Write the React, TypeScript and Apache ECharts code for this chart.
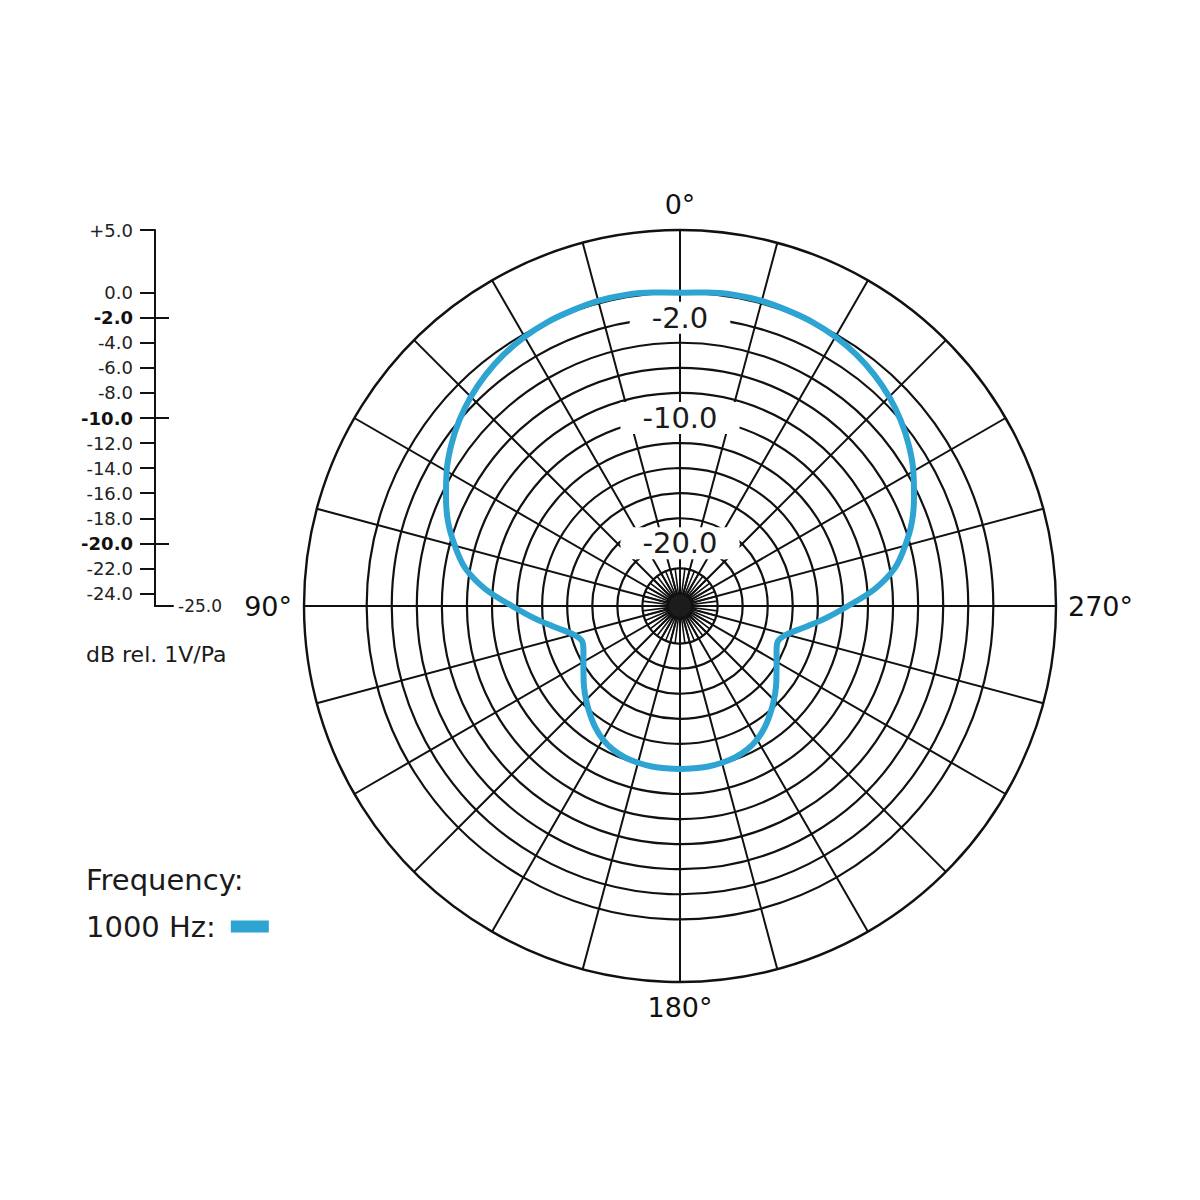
import React, { useEffect, useRef } from 'react';
import * as echarts from 'echarts';

// ---- data ----
const angles = [
  0, 5, 10, 15, 20, 25, 30, 35, 40, 45, 50, 55, 60, 65, 70, 75, 80, 85, 90,
  95, 100, 105, 110, 115, 120, 125, 130, 135, 140, 145, 150, 155, 160, 165, 170, 175, 180,
  185, 190, 195, 200, 205, 210, 215, 220, 225, 230, 235, 240, 245, 250, 255, 260, 265, 270,
  275, 280, 285, 290, 295, 300, 305, 310, 315, 320, 325, 330, 335, 340, 345, 350, 355, 360,
];
const levels1000 = [
  0.0, 0.1, 0.2, 0.2, 0.1, 0.0, -0.2, -0.5, -0.9, -1.4, -2.0, -2.7, -3.5, -4.4, -5.3, -6.4, -7.6, -9.4, -11.6,
  -13.4, -15.0, -16.2, -16.7, -16.5, -16.1, -15.6, -15.0, -14.4, -13.8, -13.2, -12.7, -12.35, -12.15, -12.05, -12.0, -12.0, -12.0,
  -12.0, -12.0, -12.05, -12.15, -12.35, -12.7, -13.2, -13.8, -14.4, -15.0, -15.6, -16.1, -16.5, -16.7, -16.2, -15.0, -13.4, -11.6,
  -9.4, -7.6, -6.4, -5.3, -4.4, -3.5, -2.7, -2.0, -1.4, -0.9, -0.5, -0.2, 0.0, 0.1, 0.2, 0.2, 0.1, 0.0,
];
const DB_MIN = -25;
const DB_MAX = 5;
const ringLevels = [-24, -22, -20, -18, -16, -14, -12, -10, -8, -6, -4, -2, 0];
const ringLabelLevels = [-2, -10, -20];
const ringLabelTexts = ['-2.0', '-10.0', '-20.0'];
const angleLabelValues = [0, 90, 180, 270];
const angleLabelTexts = ['0°', '90°', '180°', '270°'];
const scaleValues = [5, 0, -2, -4, -6, -8, -10, -12, -14, -16, -18, -20, -22, -24];
const scaleTexts = ['+5.0', '0.0', '-2.0', '-4.0', '-6.0', '-8.0', '-10.0', '-12.0', '-14.0', '-16.0', '-18.0', '-20.0', '-22.0', '-24.0'];
const boldScaleValues = [-2, -10, -20];
const scaleMinText = '-25.0';
const unitText = 'dB rel. 1V/Pa';
const legendTitle = 'Frequency:';
const seriesName = '1000 Hz:';

const FONT = '"DejaVu Sans", Verdana, sans-serif';
const BLUE = '#2ea4d3';
const INK = '#111111';

export default function App() {
  const ref = useRef<HTMLDivElement>(null);
  useEffect(() => {
    document.body.style.margin = '0';
    if (!ref.current) return;
    const chart = echarts.init(ref.current, null, { renderer: 'svg' });
    const cx = 680;
    const cy = 606;
    const R = 376;
    const innerR = (R * 3) / (DB_MAX - DB_MIN);

    const option: any = {
      animation: false,
      backgroundColor: '#fff',
      title: [
        {
          text: legendTitle,
          left: 86,
          top: 865,
          padding: 0,
          textStyle: { fontFamily: FONT, fontSize: 29, fontWeight: 'normal', color: '#1a1a1a' },
        },
        {
          text: unitText,
          left: 86,
          top: 643,
          padding: 0,
          textStyle: { fontFamily: FONT, fontSize: 22, fontWeight: 'normal', color: '#1a1a1a' },
        },
      ],
      legend: {
        data: [seriesName],
        left: 86,
        top: 912,
        padding: 0,
        align: 'right',
        icon: 'rect',
        itemWidth: 38,
        itemHeight: 12,
        selectedMode: false,
        textStyle: { fontFamily: FONT, fontSize: 29, color: '#1a1a1a', padding: [0, 10, 0, 0] },
      },
      polar: [
        { center: [cx, cy], radius: R },
        { center: [cx, cy], radius: innerR },
      ],
      angleAxis: [
        {
          polarIndex: 0,
          type: 'value',
          min: 0,
          max: 360,
          interval: 15,
          startAngle: 90,
          clockwise: false,
          axisLine: { show: true, lineStyle: { color: INK, width: 2.4 } },
          axisTick: { show: false },
          splitLine: { show: true, lineStyle: { color: INK, width: 2 } },
          axisLabel: {
            show: true,
            margin: 12,
            fontFamily: FONT,
            fontSize: 27,
            color: '#111',
            formatter: (v: number) => {
              const i = angleLabelValues.indexOf(v);
              return i >= 0 ? angleLabelTexts[i] : '';
            },
          },
        },
        {
          polarIndex: 1,
          type: 'value',
          min: 0,
          max: 360,
          interval: 7.5,
          startAngle: 90,
          clockwise: false,
          axisLine: { show: false },
          axisTick: { show: false },
          axisLabel: { show: false },
          splitLine: { show: true, lineStyle: { color: INK, width: 1.6 } },
        },
      ],
      radiusAxis: [
        {
          polarIndex: 0,
          type: 'value',
          min: DB_MIN,
          max: DB_MAX,
          axisLine: { show: false },
          axisTick: { show: false, customValues: ringLevels },
          axisLabel: { show: false },
          splitLine: { show: true, lineStyle: { color: INK, width: 2.2 } },
        },
        {
          polarIndex: 1,
          type: 'value',
          min: 0,
          max: 1,
          axisLine: { show: false },
          axisTick: { show: false },
          axisLabel: { show: false },
          splitLine: { show: false },
        },
      ],
      grid: [{ left: 155, top: cy - R, width: 18, height: R, containLabel: false }],
      xAxis: [
        {
          gridIndex: 0,
          type: 'value',
          min: 0,
          max: 1,
          position: 'bottom',
          axisLine: { show: true, onZero: false, lineStyle: { color: INK, width: 2 } },
          axisTick: { show: false },
          axisLabel: { show: false },
          splitLine: { show: false },
          name: scaleMinText,
          nameLocation: 'end',
          nameGap: 5,
          nameTextStyle: { fontFamily: FONT, fontSize: 17, color: '#222' },
        },
      ],
      yAxis: [
        {
          gridIndex: 0,
          type: 'value',
          min: DB_MIN,
          max: DB_MAX,
          position: 'left',
          axisLine: { show: true, onZero: false, lineStyle: { color: INK, width: 2 } },
          axisTick: { show: true, length: 15, customValues: scaleValues, lineStyle: { color: INK, width: 2 } },
          axisLabel: {
            show: true,
            customValues: scaleValues,
            margin: 22,
            fontFamily: FONT,
            fontSize: 18,
            color: '#222',
            formatter: (v: number) => {
              const i = scaleValues.indexOf(v);
              const t = i >= 0 ? scaleTexts[i] : '';
              return boldScaleValues.indexOf(v) >= 0 ? '{b|' + t + '}' : t;
            },
            rich: { b: { fontFamily: FONT, fontSize: 18, fontWeight: 'bold', color: '#111' } },
          },
          splitLine: { show: false },
        },
        {
          gridIndex: 0,
          type: 'value',
          min: DB_MIN,
          max: DB_MAX,
          position: 'left',
          axisLine: { show: false, onZero: false },
          axisTick: { show: true, inside: true, length: 14, customValues: boldScaleValues, lineStyle: { color: INK, width: 2 } },
          axisLabel: { show: false },
          splitLine: { show: false },
        },
      ],
      series: [
        {
          name: seriesName,
          type: 'line',
          coordinateSystem: 'polar',
          polarIndex: 0,
          data: angles.map((a, i) => [levels1000[i], a]),
          smooth: 0.35,
          showSymbol: false,
          symbol: 'none',
          lineStyle: { color: BLUE, width: 6 },
          itemStyle: { color: BLUE },
          z: 4,
          silent: true,
        },
        {
          name: 'center',
          type: 'scatter',
          coordinateSystem: 'polar',
          polarIndex: 0,
          data: [[DB_MIN, 0]],
          symbolSize: 22,
          itemStyle: { color: '#1c1c1c', opacity: 1 },
          z: 3,
          silent: true,
        },
        {
          name: 'ringLabels',
          type: 'scatter',
          coordinateSystem: 'polar',
          polarIndex: 0,
          data: ringLabelLevels.map((v) => [v, 0]),
          symbolSize: 1,
          itemStyle: { color: '#ffffff', opacity: 1 },
          z: 5,
          silent: true,
          label: {
            show: true,
            position: 'inside',
            formatter: (p: any) => ringLabelTexts[p.dataIndex],
            fontFamily: FONT,
            fontSize: 29,
            color: '#1a1a1a',
            backgroundColor: '#ffffff',
            opacity: 1,
            padding: [2, 22, 1, 22],
          },
        },
      ],
    };
    chart.setOption(option);
    return () => chart.dispose();
  }, []);
  return <div ref={ref} style={{ width: 1200, height: 1200 }} />;
}
